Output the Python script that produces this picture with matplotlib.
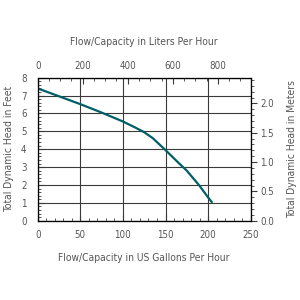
import matplotlib.pyplot as plt
from matplotlib.ticker import MultipleLocator

plt.rcParams['font.family'] = ['DejaVu Sans']
plt.rcParams['font.stretch'] = 'condensed'

# Pump curve (US gallons per hour vs feet of head)
gph = [0, 25, 50, 75, 100, 115, 125, 135, 150, 165, 175, 190, 200, 205]
head_ft = [7.4, 6.96, 6.52, 6.05, 5.55, 5.2, 4.95, 4.62, 3.95, 3.25, 2.8, 1.95, 1.3, 1.0]

gal_to_l = 3.785
ft_to_m = 0.3048
text_c = '#555555'
grid_c = '#3a3a3a'

fig = plt.figure(figsize=(3, 3), dpi=100)
ax = fig.add_axes([0.1257, 0.2643, 0.71, 0.4767])
ax.plot(gph, head_ft, color='#005f66', lw=1.6, solid_capstyle='butt')
ax.set_xlim(0, 250)
ax.set_ylim(0, 8)
ax.xaxis.set_major_locator(MultipleLocator(50))
ax.xaxis.set_minor_locator(MultipleLocator(10))
ax.yaxis.set_major_locator(MultipleLocator(1))
ax.yaxis.set_minor_locator(MultipleLocator(0.2))
ax.grid(True, which='major', color=grid_c, lw=0.8)
ax.tick_params(which='both', direction='in', colors=grid_c, labelcolor=text_c, labelsize=7)
ax.tick_params(axis='x', pad=7)
ax.tick_params(axis='y', pad=8)
ax.tick_params(which='major', length=4)
ax.tick_params(which='minor', length=2)
for s in ax.spines.values():
    s.set_color(grid_c)
    s.set_linewidth(0.8)
ax.set_xlabel('Flow/Capacity in US Gallons Per Hour', color=text_c, fontsize=7.4, labelpad=9)
ax.set_ylabel('Total Dynamic Head in Feet', color=text_c, fontsize=7.4, labelpad=5)

ax_top = ax.twiny()
ax_top.set_xlim(0, 250 * gal_to_l)
ax_top.xaxis.set_major_locator(MultipleLocator(200))
ax_top.xaxis.set_minor_locator(MultipleLocator(50))
ax_top.tick_params(which='both', direction='in', colors=grid_c, labelcolor=text_c, labelsize=7, pad=5)
ax_top.tick_params(which='major', length=4)
ax_top.tick_params(which='minor', length=2)
ax_top.set_xticks([0, 200, 400, 600, 800])
ax_top.set_xlabel('Flow/Capacity in Liters Per Hour', color=text_c, fontsize=7.4, labelpad=11)

ax_r = ax.twinx()
ax_r.set_ylim(0, 8 * ft_to_m)
ax_r.yaxis.set_major_locator(MultipleLocator(0.5))
ax_r.yaxis.set_minor_locator(MultipleLocator(0.1))
ax_r.yaxis.set_major_formatter('{x:.1f}')
ax_r.tick_params(which='both', direction='out', colors=grid_c, labelcolor=text_c, labelsize=7, pad=3)
ax_r.tick_params(which='major', length=4)
ax_r.tick_params(which='minor', length=2)
ax_r.set_ylabel('Total Dynamic Head in Meters', color=text_c, fontsize=7.4, labelpad=9)

fig.savefig('out.png', dpi=100)
